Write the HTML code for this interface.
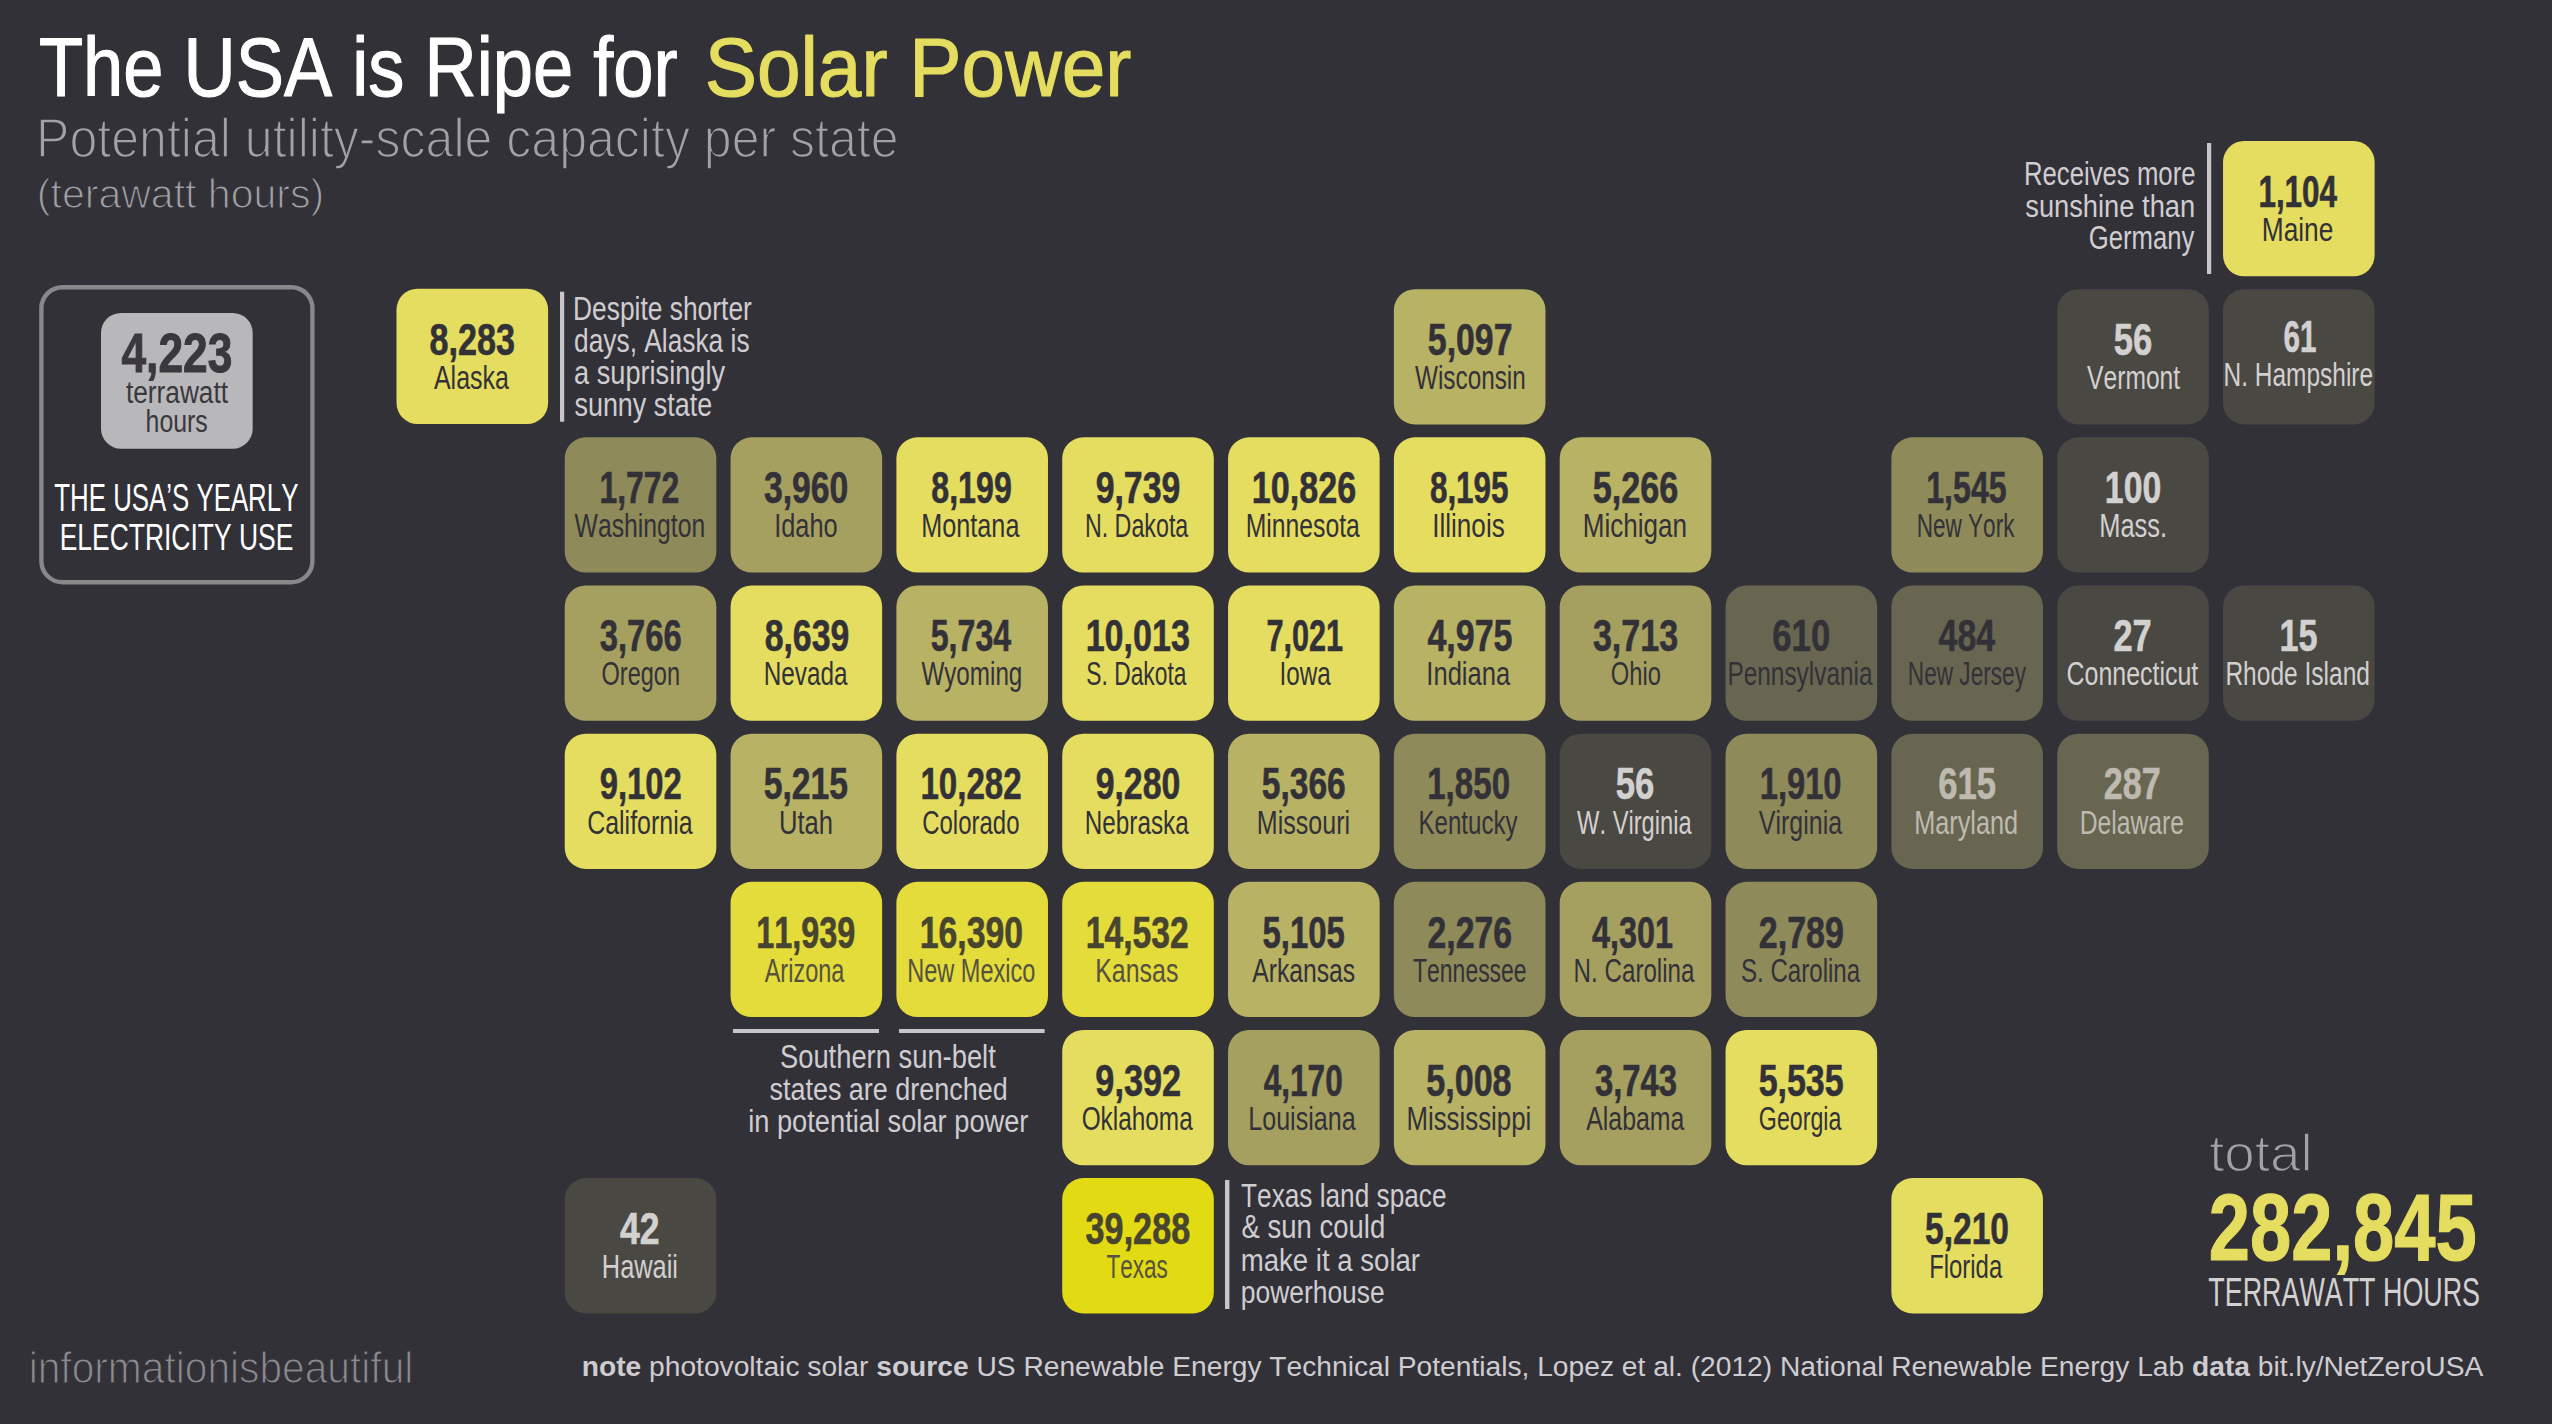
<!DOCTYPE html>
<html><head><meta charset="utf-8"><style>
html,body{margin:0;padding:0;background:#323138;width:2552px;height:1424px;overflow:hidden}
svg{display:block}
text{font-family:"Liberation Sans",sans-serif;font-kerning:none}
</style></head><body>
<svg width="2552" height="1424" viewBox="0 0 2552 1424">
<rect x="0" y="0" width="2552" height="1424" fill="#323138"/>
<text x="38.98" y="95.80" font-size="83.72" font-weight="normal" fill="#FFFFFF" textLength="638.62" lengthAdjust="spacingAndGlyphs" stroke="#FFFFFF" stroke-width="1.2" stroke-linejoin="round">The USA is Ripe for</text>
<text x="704.64" y="95.80" font-size="83.72" font-weight="normal" fill="#E5DD5F" textLength="426.76" lengthAdjust="spacingAndGlyphs" stroke="#E5DD5F" stroke-width="1.2" stroke-linejoin="round">Solar Power</text>
<text x="36.09" y="157.40" font-size="54.65" font-weight="normal" fill="#A3A1A3" textLength="862.53" lengthAdjust="spacingAndGlyphs" stroke="#323138" stroke-width="1.6">Potential utility-scale capacity per state</text>
<text x="36.86" y="207.50" font-size="40.70" font-weight="normal" fill="#A3A1A3" textLength="287.29" lengthAdjust="spacingAndGlyphs" stroke="#323138" stroke-width="1.2">(terawatt hours)</text>
<rect x="41.4" y="287.2" width="271" height="295" rx="21" fill="none" stroke="#8A878B" stroke-width="4.4"/>
<rect x="101" y="313" width="151.7" height="135.7" rx="20" fill="#B8B7B9"/>
<text x="121.43" y="372.30" font-size="55.08" font-weight="bold" fill="#3A383E" textLength="110.97" lengthAdjust="spacingAndGlyphs" stroke="#3A383E" stroke-width="1.0">4,223</text>
<text x="125.90" y="403.20" font-size="31.82" font-weight="normal" fill="#3A383E" textLength="102.19" lengthAdjust="spacingAndGlyphs">terrawatt</text>
<text x="145.58" y="432.00" font-size="30.86" font-weight="normal" fill="#3A383E" textLength="62.22" lengthAdjust="spacingAndGlyphs">hours</text>
<text x="54.32" y="510.80" font-size="38.81" font-weight="normal" fill="#FFFFFF" textLength="244.05" lengthAdjust="spacingAndGlyphs">THE USA’S YEARLY</text>
<text x="59.63" y="550.00" font-size="37.79" font-weight="normal" fill="#FFFFFF" textLength="233.71" lengthAdjust="spacingAndGlyphs">ELECTRICITY USE</text>
<rect x="2223.03" y="141.00" width="151.6" height="135.3" rx="21" fill="#E5DD5F"/>
<text x="2258.42" y="206.80" font-size="44.48" font-weight="bold" fill="#333138" textLength="78.65" lengthAdjust="spacingAndGlyphs" stroke="#333138" stroke-width="0.6">1,104</text>
<text x="2261.74" y="241.00" font-size="33.14" font-weight="normal" fill="#333138" textLength="71.63" lengthAdjust="spacingAndGlyphs">Maine</text>
<rect x="1393.88" y="289.16" width="151.6" height="135.3" rx="21" fill="#B8B264"/>
<text x="1427.86" y="354.70" font-size="44.48" font-weight="bold" fill="#333138" textLength="84.63" lengthAdjust="spacingAndGlyphs" stroke="#333138" stroke-width="0.6">5,097</text>
<text x="1414.99" y="389.30" font-size="33.14" font-weight="normal" fill="#333138" textLength="110.79" lengthAdjust="spacingAndGlyphs">Wisconsin</text>
<rect x="2057.20" y="289.16" width="151.6" height="135.3" rx="21" fill="#4A4843"/>
<text x="2113.63" y="354.70" font-size="44.48" font-weight="bold" fill="#D3D0D0" textLength="38.52" lengthAdjust="spacingAndGlyphs" stroke="#D3D0D0" stroke-width="0.6">56</text>
<text x="2087.09" y="389.30" font-size="33.14" font-weight="normal" fill="#D3D0D0" textLength="93.09" lengthAdjust="spacingAndGlyphs">Vermont</text>
<rect x="2223.03" y="289.16" width="151.6" height="135.3" rx="21" fill="#4A4843"/>
<text x="2283.62" y="352.30" font-size="44.48" font-weight="bold" fill="#D3D0D0" textLength="32.91" lengthAdjust="spacingAndGlyphs" stroke="#D3D0D0" stroke-width="0.6">61</text>
<text x="2223.59" y="385.80" font-size="33.14" font-weight="normal" fill="#D3D0D0" textLength="149.49" lengthAdjust="spacingAndGlyphs">N. Hampshire</text>
<rect x="564.73" y="437.32" width="151.6" height="135.3" rx="21" fill="#8E8A5A"/>
<text x="599.49" y="502.70" font-size="44.48" font-weight="bold" fill="#333138" textLength="79.89" lengthAdjust="spacingAndGlyphs" stroke="#333138" stroke-width="0.6">1,772</text>
<text x="574.59" y="536.60" font-size="33.14" font-weight="normal" fill="#333138" textLength="130.61" lengthAdjust="spacingAndGlyphs">Washington</text>
<rect x="730.56" y="437.32" width="151.6" height="135.3" rx="21" fill="#A5A060"/>
<text x="763.93" y="502.70" font-size="44.48" font-weight="bold" fill="#333138" textLength="84.46" lengthAdjust="spacingAndGlyphs" stroke="#333138" stroke-width="0.6">3,960</text>
<text x="774.16" y="536.60" font-size="33.14" font-weight="normal" fill="#333138" textLength="63.51" lengthAdjust="spacingAndGlyphs">Idaho</text>
<rect x="896.39" y="437.32" width="151.6" height="135.3" rx="21" fill="#E5DD5F"/>
<text x="931.28" y="502.70" font-size="44.48" font-weight="bold" fill="#333138" textLength="80.52" lengthAdjust="spacingAndGlyphs" stroke="#333138" stroke-width="0.6">8,199</text>
<text x="921.33" y="536.60" font-size="33.14" font-weight="normal" fill="#333138" textLength="98.07" lengthAdjust="spacingAndGlyphs">Montana</text>
<rect x="1062.22" y="437.32" width="151.6" height="135.3" rx="21" fill="#E5DD5F"/>
<text x="1095.63" y="502.70" font-size="44.48" font-weight="bold" fill="#333138" textLength="84.73" lengthAdjust="spacingAndGlyphs" stroke="#333138" stroke-width="0.6">9,739</text>
<text x="1084.89" y="536.60" font-size="33.14" font-weight="normal" fill="#333138" textLength="103.41" lengthAdjust="spacingAndGlyphs">N. Dakota</text>
<rect x="1228.05" y="437.32" width="151.6" height="135.3" rx="21" fill="#E5DD5F"/>
<text x="1251.85" y="502.70" font-size="44.48" font-weight="bold" fill="#333138" textLength="104.28" lengthAdjust="spacingAndGlyphs" stroke="#333138" stroke-width="0.6">10,826</text>
<text x="1245.67" y="536.60" font-size="33.14" font-weight="normal" fill="#333138" textLength="114.13" lengthAdjust="spacingAndGlyphs">Minnesota</text>
<rect x="1393.88" y="437.32" width="151.6" height="135.3" rx="21" fill="#E5DD5F"/>
<text x="1429.90" y="502.70" font-size="44.48" font-weight="bold" fill="#333138" textLength="78.67" lengthAdjust="spacingAndGlyphs" stroke="#333138" stroke-width="0.6">8,195</text>
<text x="1432.19" y="536.60" font-size="33.14" font-weight="normal" fill="#333138" textLength="72.55" lengthAdjust="spacingAndGlyphs">Illinois</text>
<rect x="1559.71" y="437.32" width="151.6" height="135.3" rx="21" fill="#B8B264"/>
<text x="1592.65" y="502.70" font-size="44.48" font-weight="bold" fill="#333138" textLength="85.59" lengthAdjust="spacingAndGlyphs" stroke="#333138" stroke-width="0.6">5,266</text>
<text x="1582.76" y="536.60" font-size="33.14" font-weight="normal" fill="#333138" textLength="104.33" lengthAdjust="spacingAndGlyphs">Michigan</text>
<rect x="1891.37" y="437.32" width="151.6" height="135.3" rx="21" fill="#8E8A5A"/>
<text x="1926.28" y="502.70" font-size="44.48" font-weight="bold" fill="#333138" textLength="80.31" lengthAdjust="spacingAndGlyphs" stroke="#333138" stroke-width="0.6">1,545</text>
<text x="1916.65" y="536.60" font-size="33.14" font-weight="normal" fill="#333138" textLength="97.82" lengthAdjust="spacingAndGlyphs">New York</text>
<rect x="2057.20" y="437.32" width="151.6" height="135.3" rx="21" fill="#4A4843"/>
<text x="2104.87" y="502.70" font-size="44.48" font-weight="bold" fill="#D3D0D0" textLength="56.42" lengthAdjust="spacingAndGlyphs" stroke="#D3D0D0" stroke-width="0.6">100</text>
<text x="2099.31" y="536.60" font-size="33.14" font-weight="normal" fill="#D3D0D0" textLength="67.81" lengthAdjust="spacingAndGlyphs">Mass.</text>
<rect x="564.73" y="585.48" width="151.6" height="135.3" rx="21" fill="#A5A060"/>
<text x="599.85" y="650.50" font-size="44.48" font-weight="bold" fill="#333138" textLength="81.83" lengthAdjust="spacingAndGlyphs" stroke="#333138" stroke-width="0.6">3,766</text>
<text x="601.59" y="684.80" font-size="33.14" font-weight="normal" fill="#333138" textLength="78.44" lengthAdjust="spacingAndGlyphs">Oregon</text>
<rect x="730.56" y="585.48" width="151.6" height="135.3" rx="21" fill="#E5DD5F"/>
<text x="764.63" y="650.50" font-size="44.48" font-weight="bold" fill="#333138" textLength="84.63" lengthAdjust="spacingAndGlyphs" stroke="#333138" stroke-width="0.6">8,639</text>
<text x="763.70" y="684.80" font-size="33.14" font-weight="normal" fill="#333138" textLength="83.90" lengthAdjust="spacingAndGlyphs">Nevada</text>
<rect x="896.39" y="585.48" width="151.6" height="135.3" rx="21" fill="#B8B264"/>
<text x="930.71" y="650.50" font-size="44.48" font-weight="bold" fill="#333138" textLength="80.46" lengthAdjust="spacingAndGlyphs" stroke="#333138" stroke-width="0.6">5,734</text>
<text x="921.39" y="684.80" font-size="33.14" font-weight="normal" fill="#333138" textLength="100.97" lengthAdjust="spacingAndGlyphs">Wyoming</text>
<rect x="1062.22" y="585.48" width="151.6" height="135.3" rx="21" fill="#E5DD5F"/>
<text x="1085.65" y="650.50" font-size="44.48" font-weight="bold" fill="#333138" textLength="104.28" lengthAdjust="spacingAndGlyphs" stroke="#333138" stroke-width="0.6">10,013</text>
<text x="1086.37" y="684.80" font-size="33.14" font-weight="normal" fill="#333138" textLength="100.03" lengthAdjust="spacingAndGlyphs">S. Dakota</text>
<rect x="1228.05" y="585.48" width="151.6" height="135.3" rx="21" fill="#E5DD5F"/>
<text x="1266.39" y="650.50" font-size="44.48" font-weight="bold" fill="#333138" textLength="76.57" lengthAdjust="spacingAndGlyphs" stroke="#333138" stroke-width="0.6">7,021</text>
<text x="1279.56" y="684.80" font-size="33.14" font-weight="normal" fill="#333138" textLength="51.24" lengthAdjust="spacingAndGlyphs">Iowa</text>
<rect x="1393.88" y="585.48" width="151.6" height="135.3" rx="21" fill="#B8B264"/>
<text x="1427.38" y="650.50" font-size="44.48" font-weight="bold" fill="#333138" textLength="85.16" lengthAdjust="spacingAndGlyphs" stroke="#333138" stroke-width="0.6">4,975</text>
<text x="1426.34" y="684.80" font-size="33.14" font-weight="normal" fill="#333138" textLength="83.86" lengthAdjust="spacingAndGlyphs">Indiana</text>
<rect x="1559.71" y="585.48" width="151.6" height="135.3" rx="21" fill="#A5A060"/>
<text x="1592.92" y="650.50" font-size="44.48" font-weight="bold" fill="#333138" textLength="85.31" lengthAdjust="spacingAndGlyphs" stroke="#333138" stroke-width="0.6">3,713</text>
<text x="1610.78" y="684.80" font-size="33.14" font-weight="normal" fill="#333138" textLength="50.12" lengthAdjust="spacingAndGlyphs">Ohio</text>
<rect x="1725.54" y="585.48" width="151.6" height="135.3" rx="21" fill="#686651"/>
<text x="1772.33" y="650.50" font-size="44.48" font-weight="bold" fill="#333138" textLength="57.89" lengthAdjust="spacingAndGlyphs" stroke="#333138" stroke-width="0.6">610</text>
<text x="1727.50" y="684.80" font-size="33.14" font-weight="normal" fill="#333138" textLength="145.00" lengthAdjust="spacingAndGlyphs">Pennsylvania</text>
<rect x="1891.37" y="585.48" width="151.6" height="135.3" rx="21" fill="#686651"/>
<text x="1938.59" y="650.50" font-size="44.48" font-weight="bold" fill="#333138" textLength="56.60" lengthAdjust="spacingAndGlyphs" stroke="#333138" stroke-width="0.6">484</text>
<text x="1907.85" y="684.80" font-size="33.14" font-weight="normal" fill="#333138" textLength="118.10" lengthAdjust="spacingAndGlyphs">New Jersey</text>
<rect x="2057.20" y="585.48" width="151.6" height="135.3" rx="21" fill="#4A4843"/>
<text x="2113.51" y="650.50" font-size="44.48" font-weight="bold" fill="#D3D0D0" textLength="38.20" lengthAdjust="spacingAndGlyphs" stroke="#D3D0D0" stroke-width="0.6">27</text>
<text x="2066.53" y="684.80" font-size="33.14" font-weight="normal" fill="#D3D0D0" textLength="131.75" lengthAdjust="spacingAndGlyphs">Connecticut</text>
<rect x="2223.03" y="585.48" width="151.6" height="135.3" rx="21" fill="#4A4843"/>
<text x="2279.55" y="650.50" font-size="44.48" font-weight="bold" fill="#D3D0D0" textLength="38.00" lengthAdjust="spacingAndGlyphs" stroke="#D3D0D0" stroke-width="0.6">15</text>
<text x="2225.39" y="684.80" font-size="33.14" font-weight="normal" fill="#D3D0D0" textLength="144.59" lengthAdjust="spacingAndGlyphs">Rhode Island</text>
<rect x="564.73" y="733.64" width="151.6" height="135.3" rx="21" fill="#E5DD5F"/>
<text x="599.66" y="798.90" font-size="44.48" font-weight="bold" fill="#333138" textLength="82.15" lengthAdjust="spacingAndGlyphs" stroke="#333138" stroke-width="0.6">9,102</text>
<text x="587.13" y="833.80" font-size="33.14" font-weight="normal" fill="#333138" textLength="105.47" lengthAdjust="spacingAndGlyphs">California</text>
<rect x="730.56" y="733.64" width="151.6" height="135.3" rx="21" fill="#B8B264"/>
<text x="763.66" y="798.90" font-size="44.48" font-weight="bold" fill="#333138" textLength="84.27" lengthAdjust="spacingAndGlyphs" stroke="#333138" stroke-width="0.6">5,215</text>
<text x="779.03" y="833.80" font-size="33.14" font-weight="normal" fill="#333138" textLength="54.03" lengthAdjust="spacingAndGlyphs">Utah</text>
<rect x="896.39" y="733.64" width="151.6" height="135.3" rx="21" fill="#E5DD5F"/>
<text x="920.41" y="798.90" font-size="44.48" font-weight="bold" fill="#333138" textLength="101.31" lengthAdjust="spacingAndGlyphs" stroke="#333138" stroke-width="0.6">10,282</text>
<text x="922.18" y="833.80" font-size="33.14" font-weight="normal" fill="#333138" textLength="97.32" lengthAdjust="spacingAndGlyphs">Colorado</text>
<rect x="1062.22" y="733.64" width="151.6" height="135.3" rx="21" fill="#E5DD5F"/>
<text x="1095.63" y="798.90" font-size="44.48" font-weight="bold" fill="#333138" textLength="84.66" lengthAdjust="spacingAndGlyphs" stroke="#333138" stroke-width="0.6">9,280</text>
<text x="1084.81" y="833.80" font-size="33.14" font-weight="normal" fill="#333138" textLength="103.89" lengthAdjust="spacingAndGlyphs">Nebraska</text>
<rect x="1228.05" y="733.64" width="151.6" height="135.3" rx="21" fill="#B8B264"/>
<text x="1261.77" y="798.90" font-size="44.48" font-weight="bold" fill="#333138" textLength="83.94" lengthAdjust="spacingAndGlyphs" stroke="#333138" stroke-width="0.6">5,366</text>
<text x="1256.85" y="833.80" font-size="33.14" font-weight="normal" fill="#333138" textLength="93.24" lengthAdjust="spacingAndGlyphs">Missouri</text>
<rect x="1393.88" y="733.64" width="151.6" height="135.3" rx="21" fill="#8E8A5A"/>
<text x="1427.21" y="798.90" font-size="44.48" font-weight="bold" fill="#333138" textLength="82.84" lengthAdjust="spacingAndGlyphs" stroke="#333138" stroke-width="0.6">1,850</text>
<text x="1418.53" y="833.80" font-size="33.14" font-weight="normal" fill="#333138" textLength="99.02" lengthAdjust="spacingAndGlyphs">Kentucky</text>
<rect x="1559.71" y="733.64" width="151.6" height="135.3" rx="21" fill="#4A4843"/>
<text x="1615.73" y="798.90" font-size="44.48" font-weight="bold" fill="#D3D0D0" textLength="38.62" lengthAdjust="spacingAndGlyphs" stroke="#D3D0D0" stroke-width="0.6">56</text>
<text x="1577.10" y="833.80" font-size="33.14" font-weight="normal" fill="#D3D0D0" textLength="114.60" lengthAdjust="spacingAndGlyphs">W. Virginia</text>
<rect x="1725.54" y="733.64" width="151.6" height="135.3" rx="21" fill="#8E8A5A"/>
<text x="1759.74" y="798.90" font-size="44.48" font-weight="bold" fill="#333138" textLength="81.80" lengthAdjust="spacingAndGlyphs" stroke="#333138" stroke-width="0.6">1,910</text>
<text x="1758.79" y="833.80" font-size="33.14" font-weight="normal" fill="#333138" textLength="83.31" lengthAdjust="spacingAndGlyphs">Virginia</text>
<rect x="1891.37" y="733.64" width="151.6" height="135.3" rx="21" fill="#686651"/>
<text x="1938.23" y="798.90" font-size="44.48" font-weight="bold" fill="#BEBAB0" textLength="57.73" lengthAdjust="spacingAndGlyphs" stroke="#BEBAB0" stroke-width="0.6">615</text>
<text x="1914.13" y="833.80" font-size="33.14" font-weight="normal" fill="#BEBAB0" textLength="104.00" lengthAdjust="spacingAndGlyphs">Maryland</text>
<rect x="2057.20" y="733.64" width="151.6" height="135.3" rx="21" fill="#686651"/>
<text x="2103.82" y="798.90" font-size="44.48" font-weight="bold" fill="#BEBAB0" textLength="56.98" lengthAdjust="spacingAndGlyphs" stroke="#BEBAB0" stroke-width="0.6">287</text>
<text x="2079.67" y="833.80" font-size="33.14" font-weight="normal" fill="#BEBAB0" textLength="104.32" lengthAdjust="spacingAndGlyphs">Delaware</text>
<rect x="730.56" y="881.80" width="151.6" height="135.3" rx="21" fill="#E4DC3B"/>
<text x="756.16" y="948.00" font-size="44.48" font-weight="bold" fill="#47442F" textLength="99.25" lengthAdjust="spacingAndGlyphs" stroke="#47442F" stroke-width="0.6">11,939</text>
<text x="764.65" y="981.70" font-size="33.14" font-weight="normal" fill="#55523F" textLength="79.75" lengthAdjust="spacingAndGlyphs">Arizona</text>
<rect x="896.39" y="881.80" width="151.6" height="135.3" rx="21" fill="#E4DC3B"/>
<text x="919.67" y="948.00" font-size="44.48" font-weight="bold" fill="#47442F" textLength="103.42" lengthAdjust="spacingAndGlyphs" stroke="#47442F" stroke-width="0.6">16,390</text>
<text x="907.17" y="981.70" font-size="33.14" font-weight="normal" fill="#55523F" textLength="128.32" lengthAdjust="spacingAndGlyphs">New Mexico</text>
<rect x="1062.22" y="881.80" width="151.6" height="135.3" rx="21" fill="#E4DC3B"/>
<text x="1085.78" y="948.00" font-size="44.48" font-weight="bold" fill="#47442F" textLength="102.86" lengthAdjust="spacingAndGlyphs" stroke="#47442F" stroke-width="0.6">14,532</text>
<text x="1095.15" y="981.70" font-size="33.14" font-weight="normal" fill="#55523F" textLength="83.25" lengthAdjust="spacingAndGlyphs">Kansas</text>
<rect x="1228.05" y="881.80" width="151.6" height="135.3" rx="21" fill="#B8B264"/>
<text x="1262.49" y="948.00" font-size="44.48" font-weight="bold" fill="#333138" textLength="82.23" lengthAdjust="spacingAndGlyphs" stroke="#333138" stroke-width="0.6">5,105</text>
<text x="1252.25" y="981.70" font-size="33.14" font-weight="normal" fill="#333138" textLength="102.84" lengthAdjust="spacingAndGlyphs">Arkansas</text>
<rect x="1393.88" y="881.80" width="151.6" height="135.3" rx="21" fill="#8E8A5A"/>
<text x="1427.53" y="948.00" font-size="44.48" font-weight="bold" fill="#333138" textLength="84.59" lengthAdjust="spacingAndGlyphs" stroke="#333138" stroke-width="0.6">2,276</text>
<text x="1413.08" y="981.70" font-size="33.14" font-weight="normal" fill="#333138" textLength="113.54" lengthAdjust="spacingAndGlyphs">Tennessee</text>
<rect x="1559.71" y="881.80" width="151.6" height="135.3" rx="21" fill="#A5A060"/>
<text x="1592.11" y="948.00" font-size="44.48" font-weight="bold" fill="#333138" textLength="80.99" lengthAdjust="spacingAndGlyphs" stroke="#333138" stroke-width="0.6">4,301</text>
<text x="1573.62" y="981.70" font-size="33.14" font-weight="normal" fill="#333138" textLength="120.88" lengthAdjust="spacingAndGlyphs">N. Carolina</text>
<rect x="1725.54" y="881.80" width="151.6" height="135.3" rx="21" fill="#8E8A5A"/>
<text x="1758.82" y="948.00" font-size="44.48" font-weight="bold" fill="#333138" textLength="85.04" lengthAdjust="spacingAndGlyphs" stroke="#333138" stroke-width="0.6">2,789</text>
<text x="1740.90" y="981.70" font-size="33.14" font-weight="normal" fill="#333138" textLength="119.30" lengthAdjust="spacingAndGlyphs">S. Carolina</text>
<rect x="1062.22" y="1029.96" width="151.6" height="135.3" rx="21" fill="#E5DD5F"/>
<text x="1095.31" y="1095.90" font-size="44.48" font-weight="bold" fill="#333138" textLength="85.86" lengthAdjust="spacingAndGlyphs" stroke="#333138" stroke-width="0.6">9,392</text>
<text x="1081.65" y="1129.70" font-size="33.14" font-weight="normal" fill="#333138" textLength="111.05" lengthAdjust="spacingAndGlyphs">Oklahoma</text>
<rect x="1228.05" y="1029.96" width="151.6" height="135.3" rx="21" fill="#A5A060"/>
<text x="1263.72" y="1095.90" font-size="44.48" font-weight="bold" fill="#333138" textLength="78.97" lengthAdjust="spacingAndGlyphs" stroke="#333138" stroke-width="0.6">4,170</text>
<text x="1248.24" y="1129.70" font-size="33.14" font-weight="normal" fill="#333138" textLength="107.46" lengthAdjust="spacingAndGlyphs">Louisiana</text>
<rect x="1393.88" y="1029.96" width="151.6" height="135.3" rx="21" fill="#B8B264"/>
<text x="1426.25" y="1095.90" font-size="44.48" font-weight="bold" fill="#333138" textLength="85.30" lengthAdjust="spacingAndGlyphs" stroke="#333138" stroke-width="0.6">5,008</text>
<text x="1406.48" y="1129.70" font-size="33.14" font-weight="normal" fill="#333138" textLength="124.76" lengthAdjust="spacingAndGlyphs">Mississippi</text>
<rect x="1559.71" y="1029.96" width="151.6" height="135.3" rx="21" fill="#A5A060"/>
<text x="1594.95" y="1095.90" font-size="44.48" font-weight="bold" fill="#333138" textLength="82.14" lengthAdjust="spacingAndGlyphs" stroke="#333138" stroke-width="0.6">3,743</text>
<text x="1586.25" y="1129.70" font-size="33.14" font-weight="normal" fill="#333138" textLength="98.05" lengthAdjust="spacingAndGlyphs">Alabama</text>
<rect x="1725.54" y="1029.96" width="151.6" height="135.3" rx="21" fill="#E5DD5F"/>
<text x="1758.66" y="1095.90" font-size="44.48" font-weight="bold" fill="#333138" textLength="84.99" lengthAdjust="spacingAndGlyphs" stroke="#333138" stroke-width="0.6">5,535</text>
<text x="1758.83" y="1129.70" font-size="33.14" font-weight="normal" fill="#333138" textLength="82.57" lengthAdjust="spacingAndGlyphs">Georgia</text>
<rect x="564.73" y="1178.12" width="151.6" height="135.3" rx="21" fill="#4A4843"/>
<text x="619.96" y="1244.00" font-size="44.48" font-weight="bold" fill="#D3D0D0" textLength="39.56" lengthAdjust="spacingAndGlyphs" stroke="#D3D0D0" stroke-width="0.6">42</text>
<text x="601.82" y="1277.90" font-size="33.14" font-weight="normal" fill="#D3D0D0" textLength="76.19" lengthAdjust="spacingAndGlyphs">Hawaii</text>
<rect x="1062.22" y="1178.12" width="151.6" height="135.3" rx="21" fill="#E2DA12"/>
<text x="1085.62" y="1244.00" font-size="44.48" font-weight="bold" fill="#47442F" textLength="104.54" lengthAdjust="spacingAndGlyphs" stroke="#47442F" stroke-width="0.6">39,288</text>
<text x="1106.49" y="1277.90" font-size="33.14" font-weight="normal" fill="#55523F" textLength="61.32" lengthAdjust="spacingAndGlyphs">Texas</text>
<rect x="1891.37" y="1178.12" width="151.6" height="135.3" rx="21" fill="#E5DD5F"/>
<text x="1925.07" y="1244.00" font-size="44.48" font-weight="bold" fill="#333138" textLength="83.91" lengthAdjust="spacingAndGlyphs" stroke="#333138" stroke-width="0.6">5,210</text>
<text x="1929.14" y="1277.90" font-size="33.14" font-weight="normal" fill="#333138" textLength="73.06" lengthAdjust="spacingAndGlyphs">Florida</text>
<rect x="396.50" y="288.70" width="151.6" height="135.3" rx="21" fill="#E5DD5F"/>
<text x="429.52" y="354.70" font-size="44.48" font-weight="bold" fill="#333138" textLength="85.52" lengthAdjust="spacingAndGlyphs" stroke="#333138" stroke-width="0.6">8,283</text>
<text x="433.95" y="389.30" font-size="33.14" font-weight="normal" fill="#333138" textLength="75.05" lengthAdjust="spacingAndGlyphs">Alaska</text>
<rect x="560" y="291.7" width="4.2" height="130" fill="#C9C6CA"/>
<text x="573.04" y="319.80" font-size="33.87" font-weight="normal" fill="#D0CDD1" textLength="178.80" lengthAdjust="spacingAndGlyphs">Despite shorter</text>
<text x="574.10" y="351.90" font-size="33.87" font-weight="normal" fill="#D0CDD1" textLength="175.46" lengthAdjust="spacingAndGlyphs">days, Alaska is</text>
<text x="574.05" y="384.00" font-size="33.87" font-weight="normal" fill="#D0CDD1" textLength="151.01" lengthAdjust="spacingAndGlyphs">a suprisingly</text>
<text x="574.45" y="416.10" font-size="33.87" font-weight="normal" fill="#D0CDD1" textLength="137.75" lengthAdjust="spacingAndGlyphs">sunny state</text>
<rect x="2207" y="143" width="4.2" height="131" fill="#C9C6CA"/>
<text x="2023.89" y="185.30" font-size="33.14" font-weight="normal" fill="#D0CDD1" textLength="171.66" lengthAdjust="spacingAndGlyphs">Receives more</text>
<text x="2025.24" y="216.90" font-size="31.28" font-weight="normal" fill="#D0CDD1" textLength="169.93" lengthAdjust="spacingAndGlyphs">sunshine than</text>
<text x="2088.71" y="249.10" font-size="33.14" font-weight="normal" fill="#D0CDD1" textLength="105.74" lengthAdjust="spacingAndGlyphs">Germany</text>
<rect x="733" y="1029" width="146" height="4" fill="#C9C6CA"/>
<rect x="899" y="1029" width="145.6" height="4" fill="#C9C6CA"/>
<text x="779.96" y="1067.80" font-size="33.14" font-weight="normal" fill="#D0CDD1" textLength="215.84" lengthAdjust="spacingAndGlyphs">Southern sun-belt</text>
<text x="769.45" y="1099.50" font-size="31.28" font-weight="normal" fill="#D0CDD1" textLength="238.29" lengthAdjust="spacingAndGlyphs">states are drenched</text>
<text x="748.18" y="1131.50" font-size="31.28" font-weight="normal" fill="#D0CDD1" textLength="280.28" lengthAdjust="spacingAndGlyphs">in potential solar power</text>
<rect x="1225" y="1180" width="4.4" height="129" fill="#C9C6CA"/>
<text x="1241.11" y="1207.00" font-size="33.14" font-weight="normal" fill="#D0CDD1" textLength="205.35" lengthAdjust="spacingAndGlyphs">Texas land space</text>
<text x="1241.53" y="1238.40" font-size="33.14" font-weight="normal" fill="#D0CDD1" textLength="143.74" lengthAdjust="spacingAndGlyphs">&amp; sun could</text>
<text x="1240.67" y="1270.80" font-size="31.28" font-weight="normal" fill="#D0CDD1" textLength="179.39" lengthAdjust="spacingAndGlyphs">make it a solar</text>
<text x="1240.80" y="1302.80" font-size="31.28" font-weight="normal" fill="#D0CDD1" textLength="143.88" lengthAdjust="spacingAndGlyphs">powerhouse</text>
<text x="2209.17" y="1170.60" font-size="51.03" font-weight="normal" fill="#A3A1A3" textLength="103.49" lengthAdjust="spacingAndGlyphs" stroke="#323138" stroke-width="1.4">total</text>
<text x="2208.73" y="1260.40" font-size="94.63" font-weight="bold" fill="#E5DD5F" textLength="268.03" lengthAdjust="spacingAndGlyphs" stroke="#E5DD5F" stroke-width="1.2">282,845</text>
<text x="2208.30" y="1306.40" font-size="39.97" font-weight="normal" fill="#D3D0D0" textLength="271.74" lengthAdjust="spacingAndGlyphs">TERRAWATT HOURS</text>
<text x="28.68" y="1383.30" font-size="43.90" font-weight="normal" fill="#8C8A8D" textLength="384.65" lengthAdjust="spacingAndGlyphs" stroke="#323138" stroke-width="1.2">informationisbeautiful</text>
<text x="581.80" y="1376" font-size="27.62" font-weight="bold" fill="#CFCCD0" textLength="59.48" lengthAdjust="spacingAndGlyphs" xml:space="preserve">note</text>
<text x="641.28" y="1376" font-size="27.62" font-weight="normal" fill="#CFCCD0" textLength="234.95" lengthAdjust="spacingAndGlyphs" xml:space="preserve"> photovoltaic solar </text>
<text x="876.24" y="1376" font-size="27.62" font-weight="bold" fill="#CFCCD0" textLength="92.41" lengthAdjust="spacingAndGlyphs" xml:space="preserve">source</text>
<text x="968.64" y="1376" font-size="27.62" font-weight="normal" fill="#CFCCD0" textLength="1223.38" lengthAdjust="spacingAndGlyphs" xml:space="preserve"> US Renewable Energy Technical Potentials, Lopez et al. (2012) National Renewable Energy Lab </text>
<text x="2192.03" y="1376" font-size="27.62" font-weight="bold" fill="#CFCCD0" textLength="57.94" lengthAdjust="spacingAndGlyphs" xml:space="preserve">data</text>
<text x="2249.97" y="1376" font-size="27.62" font-weight="normal" fill="#CFCCD0" textLength="233.33" lengthAdjust="spacingAndGlyphs" xml:space="preserve"> bit.ly/NetZeroUSA</text>
</svg>
</body></html>
